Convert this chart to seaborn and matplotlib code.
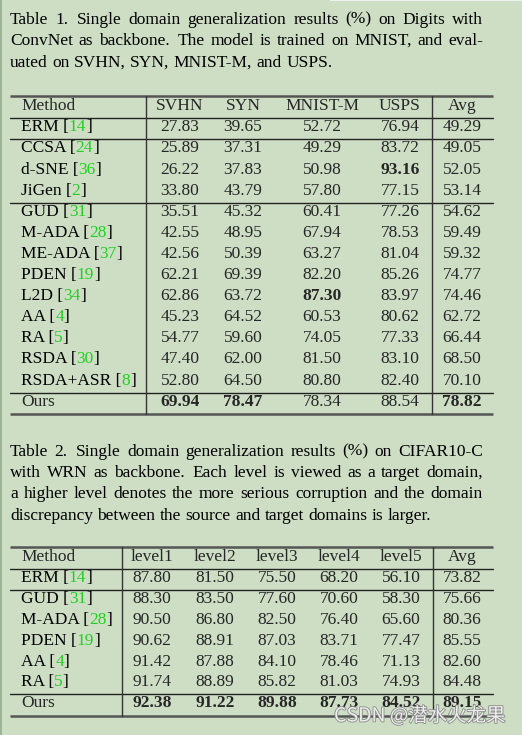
import matplotlib
matplotlib.use("Agg")
import matplotlib.pyplot as plt
import matplotlib.patheffects as pe
import seaborn as sns
import pandas as pd

# ---- Table 1 data (Digits, ConvNet) ----
t1_caption = [
    "Table 1.  Single domain generalization results (%) on Digits with",
    "ConvNet as backbone.  The model is trained on MNIST, and eval-",
    "uated on SVHN, SYN, MNIST-M, and USPS.",
]
t1_columns = ["SVHN", "SYN", "MNIST-M", "USPS", "Avg"]
t1_methods = ["ERM", "CCSA", "d-SNE", "JiGen", "GUD", "M-ADA", "ME-ADA", "PDEN",
              "L2D", "AA", "RA", "RSDA", "RSDA+ASR", "Ours"]
t1_refs = ["14", "24", "36", "2", "31", "28", "37", "19", "34", "4", "5", "30", "8", ""]
svhn = [27.83, 25.89, 26.22, 33.80, 35.51, 42.55, 42.56, 62.21, 62.86, 45.23, 54.77, 47.40, 52.80, 69.94]
syn = [39.65, 37.31, 37.83, 43.79, 45.32, 48.95, 50.39, 69.39, 63.72, 64.52, 59.60, 62.00, 64.50, 78.47]
mnistm = [52.72, 49.29, 50.98, 57.80, 60.41, 67.94, 63.27, 82.20, 87.30, 60.53, 74.05, 81.50, 80.80, 78.34]
usps = [76.94, 83.72, 93.16, 77.15, 77.26, 78.53, 81.04, 85.26, 83.97, 80.62, 77.33, 83.10, 82.40, 88.54]
avg1 = [49.29, 49.05, 52.05, 53.14, 54.62, 59.49, 59.32, 74.77, 74.46, 62.72, 66.44, 68.50, 70.10, 78.82]
t1_rules_after = [0, 3, 12]

# ---- Table 2 data (CIFAR10-C, WRN) ----
t2_caption = [
    "Table 2.  Single domain generalization results (%) on CIFAR10-C",
    "with WRN as backbone.  Each level is viewed as a target domain,",
    "a higher level denotes the more serious corruption and the domain",
    "discrepancy between the source and target domains is larger.",
]
t2_columns = ["level1", "level2", "level3", "level4", "level5", "Avg"]
t2_methods = ["ERM", "GUD", "M-ADA", "PDEN", "AA", "RA", "Ours"]
t2_refs = ["14", "31", "28", "19", "4", "5", ""]
level1 = [87.80, 88.30, 90.50, 90.62, 91.42, 91.74, 92.38]
level2 = [81.50, 83.50, 86.80, 88.91, 87.88, 88.89, 91.22]
level3 = [75.50, 77.60, 82.50, 87.03, 84.10, 85.82, 89.88]
level4 = [68.20, 70.60, 76.40, 83.71, 78.46, 81.03, 87.73]
level5 = [56.10, 58.30, 65.60, 77.47, 71.13, 74.93, 84.52]
avg2 = [73.82, 75.66, 80.36, 85.55, 82.60, 84.48, 89.15]
t2_rules_after = [0, 5]

df1 = pd.DataFrame({"SVHN": svhn, "SYN": syn, "MNIST-M": mnistm, "USPS": usps, "Avg": avg1},
                   index=t1_methods)
df2 = pd.DataFrame({"level1": level1, "level2": level2, "level3": level3,
                    "level4": level4, "level5": level5, "Avg": avg2}, index=t2_methods)

BG = "#cddec5"
GREEN = "#22d022"
FS = 12.5

sns.set_theme(style="white", rc={"axes.facecolor": BG, "figure.facecolor": BG})
plt.rcParams["font.family"] = ["Liberation Serif", "DejaVu Serif"]

fig = plt.figure(figsize=(5.22, 7.35), dpi=100)
ax = fig.add_axes([0, 0, 1, 1])
ax.set_xlim(0, 522)
ax.set_ylim(735, 0)
ax.axis("off")
fig.canvas.draw()
renderer = fig.canvas.get_renderer()
inv = ax.transData.inverted()


def text_width(s, **kw):
    t = ax.text(0, 0, s, fontsize=FS, **kw)
    bb = t.get_window_extent(renderer)
    t.remove()
    return bb.width


def draw_caption(lines, x0, x1, y0, step):
    space = text_width("a b") - text_width("ab")
    for i, line in enumerate(lines):
        y = y0 + i * step
        words = line.split()
        widths = [text_width(w) for w in words]
        # sentence ends get a wider gap, as in LaTeX
        gaps = [space * (1.5 if w.endswith(".") else 1.0) for w in words[:-1]]
        if i < len(lines) - 1 and gaps:
            extra = (x1 - x0 - sum(widths) - sum(gaps)) / len(gaps)
            gaps = [g + extra for g in gaps]
        x = x0
        for j, w in enumerate(words):
            ax.text(x, y, w, fontsize=FS, ha="left", va="center", color="black")
            if j < len(gaps):
                x += widths[j] + gaps[j]


def draw_method(x, y, name, ref):
    if not ref:
        ax.text(x, y, name, fontsize=FS, ha="left", va="center")
        return
    parts = [(name + " [", "black"), (ref, GREEN), ("]", "black")]
    for s, c in parts:
        t = ax.text(x, y, s, fontsize=FS, ha="left", va="center", color=c)
        bb = t.get_window_extent(renderer)
        x = inv.transform((bb.x1, bb.y0))[0]


def draw_table(df, refs, col_x, x_left, x_right, vlines, method_x,
               header_y, first_y, step, rules_after, top_y, bottom_pad):
    n = len(df)
    row_y = [first_y + i * step for i in range(n)]
    ax.text(method_x, header_y, "Method", fontsize=FS, ha="left", va="center")
    for c, cx in zip(df.columns, col_x):
        ax.text(cx, header_y, c, fontsize=FS, ha="center", va="center")
    for i, (m, ref) in enumerate(zip(df.index, refs)):
        draw_method(method_x, row_y[i], m, ref)
        for c, cx in zip(df.columns, col_x):
            v = df[c].iloc[i]
            bold = v == df[c].max()
            ax.text(cx, row_y[i], f"{v:.2f}", fontsize=FS, ha="center", va="center",
                    fontweight="bold" if bold else "normal")
    bottom_y = row_y[-1] + bottom_pad
    ax.plot([x_left, x_right], [top_y, top_y], color="#555555", lw=1.8, solid_capstyle="butt")
    ax.plot([x_left, x_right], [bottom_y, bottom_y], color="#555555", lw=1.8, solid_capstyle="butt")
    ax.plot([x_left, x_right], [first_y - 9.5] * 2, color="#222222", lw=1.0)
    for k in rules_after:
        ry = row_y[k + 1] - 9
        ax.plot([x_left, x_right], [ry, ry], color="#222222", lw=1.0)
    for vx in vlines:
        ax.plot([vx, vx], [top_y, bottom_y], color="#333333", lw=1.0)


# Table 1
draw_caption(t1_caption, 10, 483, 19.5, 21.5)
draw_table(df1, t1_refs, [180, 243, 322, 400, 462], 10, 493, [146, 432], 21,
           105.5, 127.3, 21.1, t1_rules_after, 96, 12.5)

# Table 2
draw_caption(t2_caption, 10, 483, 451.5, 21.4)
draw_table(df2, t2_refs, [152, 215, 277, 339, 401, 462], 10, 493, [122, 433], 21,
           556.7, 578.3, 20.8, t2_rules_after, 547.3, 12.5)

# border strips and watermark
ax.axvspan(0, 2, color="#9db396", lw=0)
ax.axhspan(0, 1.2, xmin=330 / 522, xmax=1, color="#eef2ec", lw=0)
ax.text(506, 716, "CSDN @潜水火龙果", fontsize=14, ha="right", va="center",
        color="#eeeeee", family=["Noto Sans CJK SC", "DejaVu Sans"],
        path_effects=[pe.withStroke(linewidth=1.2, foreground="#8a8a8a")])

fig.savefig("out.png", dpi=100, facecolor=BG)
